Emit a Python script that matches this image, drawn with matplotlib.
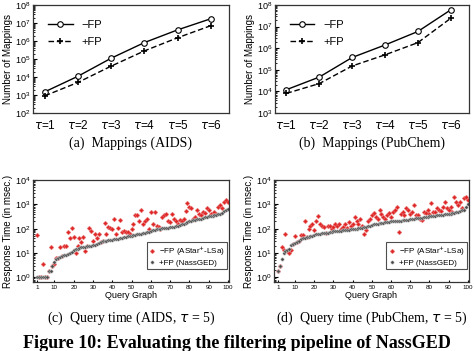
import matplotlib
matplotlib.use("Agg")
import matplotlib.pyplot as plt
from matplotlib.ticker import LogLocator
import numpy as np

# ---- data ----
taus = [1, 2, 3, 4, 5, 6]
tau_labels = [r"$\tau$=1", r"$\tau$=2", r"$\tau$=3", r"$\tau$=4", r"$\tau$=5", r"$\tau$=6"]

aids_noFP = [1.5e3, 1.1e4, 1.1e5, 8.1e5, 4.1e6, 1.7e7]
aids_FP = [9e2, 5e3, 4e4, 2.8e5, 1.5e6, 7e6]

pub_noFP = [1.2e4, 4.6e4, 3.7e5, 1.4e6, 5.9e6, 5.9e7]
pub_FP = [8.1e3, 2.3e4, 1.5e5, 4.9e5, 1.8e6, 2.4e7]

query_ids = list(range(1, 101))

aids_nass = [1, 1, 1, 1, 1, 1, 1.8, 1.8, 2.8, 4.3,
             5.5, 6.5, 7, 7.5, 8, 8.5, 9.5, 10, 11, 13,
             14, 15, 16, 17, 17.5, 18, 18.5, 19, 20, 21,
             22, 24, 26, 28, 30, 31, 32, 33, 34, 35,
             36, 37, 38, 40, 42, 44, 46, 48, 50, 52,
             54, 56, 58, 60, 62, 65, 68, 72, 76, 83,
             86, 90, 93, 96, 100, 103, 106, 108, 110, 113,
             118, 122, 128, 135, 142, 150, 160, 170, 185, 200,
             210, 220, 230, 240, 250, 260, 275, 290, 305, 320,
             330, 340, 350, 370, 390, 420, 440, 520, 600, 630]
aids_astar = [57, 1, 1, 3.5, 1, 1, 1.8, 17, 2.8, 3.5,
              6, 6.5, 18, 7.5, 20, 20, 70, 40, 110, 45,
              10, 20, 40, 28, 45, 12, 18.5, 110, 80, 30,
              60, 40, 60, 28, 30, 170, 60, 120, 110, 100,
              250, 60, 110, 230, 70, 80, 75, 70, 60, 100,
              150, 380, 350, 200, 600, 150, 200, 250, 100, 500,
              150, 500, 130, 120, 100, 300, 350, 400, 200, 180,
              400, 250, 200, 150, 220, 200, 250, 550, 1100, 800,
              700, 250, 300, 600, 400, 350, 500, 450, 700, 600,
              400, 350, 500, 400, 800, 900, 700, 1200, 1500, 1300]

pub_nass = [1.8, 2.8, 5.8, 10, 12, 13, 14, 22, 24, 26,
            28, 32, 36, 41, 43, 45, 47, 49, 52, 57,
            58, 60, 62, 64, 65, 67, 69, 71, 73, 78,
            79, 80, 82, 84, 85, 87, 89, 91, 93, 97,
            99, 101, 104, 107, 110, 115, 120, 127, 135, 146,
            150, 155, 160, 165, 170, 175, 180, 184, 188, 200,
            203, 206, 208, 210, 212, 218, 224, 230, 236, 250,
            255, 262, 268, 275, 280, 286, 292, 298, 305, 320,
            325, 335, 345, 355, 360, 370, 380, 390, 400, 410,
            420, 435, 450, 470, 500, 530, 560, 600, 800, 1000]
pub_astar = [1.8, 2.8, 17, 13, 60, 12, 10, 13, 24, 50,
             28, 32, 55, 55, 200, 45, 100, 130, 150, 90,
             200, 330, 150, 130, 120, 67, 130, 130, 100, 120,
             160, 130, 150, 100, 120, 150, 110, 180, 130, 160,
             300, 200, 150, 250, 130, 60, 90, 200, 250, 350,
             450, 300, 250, 600, 400, 300, 250, 350, 450, 300,
             500, 600, 800, 70, 400, 500, 350, 700, 600, 400,
             500, 900, 350, 350, 250, 220, 500, 450, 600, 400,
             1100, 500, 500, 700, 600, 550, 800, 1300, 700, 600,
             800, 500, 2000, 1200, 900, 1300, 700, 1800, 2000, 1500]

SANS = ["Liberation Sans", "DejaVu Sans"]
SERIF = ["Liberation Serif", "DejaVu Serif"]

plt.rcParams["font.family"] = SANS
plt.rcParams["mathtext.fontset"] = "dejavusans"
plt.rcParams["axes.linewidth"] = 0.9
plt.rcParams["axes.edgecolor"] = "#333333"

fig = plt.figure(figsize=(4.74, 3.51), dpi=100)

def log_ticks(ax):
    ax.yaxis.set_major_locator(LogLocator(base=10, numticks=20))
    ax.yaxis.set_minor_locator(LogLocator(base=10, subs=np.arange(2, 10), numticks=20))
    ax.tick_params(axis="y", which="both", direction="in", labelsize=6.5, pad=2)
    ax.tick_params(axis="y", which="major", length=3)
    ax.tick_params(axis="y", which="minor", length=1.5)

def line_panel(rect, noFP, FP, ylo, yhi):
    ax = fig.add_axes(rect)
    ax.plot(taus, noFP, "-", color="black", lw=1.0, marker="o", ms=4,
            mfc="white", mec="black", mew=0.8, label="\u2212FP")
    ax.plot(taus, FP, "--", color="black", lw=1.0, marker="+", ms=5,
            mew=1.2, label="+FP", dashes=(4, 2))
    ax.set_yscale("log")
    ax.set_ylim(ylo, yhi)
    ax.set_xlim(0.65, 6.55)
    ax.set_xticks(taus)
    ax.set_xticklabels(tau_labels, fontsize=8.5)
    ax.tick_params(axis="x", length=0, pad=4)
    log_ticks(ax)
    ax.set_ylabel("Number of Mappings", fontsize=7, labelpad=1)
    ax.legend(loc="upper left", frameon=False, fontsize=8,
              handlelength=2.2, borderaxespad=0.6, labelspacing=0.6,
              bbox_to_anchor=(0.02, 0.96))
    return ax

line_panel([0.070, 0.678, 0.413, 0.308], aids_noFP, aids_FP, 1e2, 1e8)
line_panel([0.580, 0.678, 0.409, 0.308], pub_noFP, pub_FP, 1e3, 1e8)

def scatter_panel(rect, astar, nass):
    ax = fig.add_axes(rect)
    ax.plot(query_ids, astar, linestyle="none", marker="D", ms=2.4,
            color="#e02828", mec="#e88080", mew=0.3,
            label="\u2212FP (AStar$^{+}$-LSa)")
    ax.plot(query_ids, nass, linestyle="none", marker="o", ms=2.4,
            color="#4a4a4a", mec="#cfcfcf", mew=0.4,
            label="+FP (NassGED)")
    ax.set_yscale("log")
    ax.set_ylim(0.65, 1e4)
    ax.set_xlim(-1, 100.5)
    ax.set_xticks([1, 10, 20, 30, 40, 50, 60, 70, 80, 90, 100])
    ax.tick_params(axis="x", labelsize=4.5, length=1.5, direction="in", pad=2)
    log_ticks(ax)
    ax.set_xlabel("Query Graph", fontsize=6.5, labelpad=1)
    ax.set_ylabel("Response Time (in msec.)", fontsize=7, labelpad=1)
    leg = ax.legend(loc="lower right", fontsize=5.8, frameon=True, fancybox=False,
                    edgecolor="#222222", handlelength=0.8, handletextpad=0.5,
                    borderpad=0.25, labelspacing=0.1, borderaxespad=0.0,
                    bbox_to_anchor=(0.99, 0.13))
    leg.get_frame().set_linewidth(0.8)
    return ax

scatter_panel([0.070, 0.197, 0.413, 0.290], aids_astar, aids_nass)
scatter_panel([0.578, 0.197, 0.411, 0.290], pub_astar, pub_nass)

fig.text(0.276, 0.593, "(a)  Mappings (AIDS)", family=SERIF, fontsize=10, ha="center", va="center")
fig.text(0.785, 0.593, "(b)  Mappings (PubChem)", family=SERIF, fontsize=10, ha="center", va="center")
fig.text(0.276, 0.094, r"(c)  Query time (AIDS, $\tau$ = 5)", family=SERIF, fontsize=10, ha="center", va="center")
fig.text(0.785, 0.094, r"(d)  Query time (PubChem, $\tau$ = 5)", family=SERIF, fontsize=10, ha="center", va="center")
fig.text(0.5, 3.5 / 351, "Figure 10: Evaluating the filtering pipeline of NassGED",
         family=SERIF, fontsize=13, fontweight="bold", ha="center", va="baseline")

fig.savefig("out.png", dpi=100)
